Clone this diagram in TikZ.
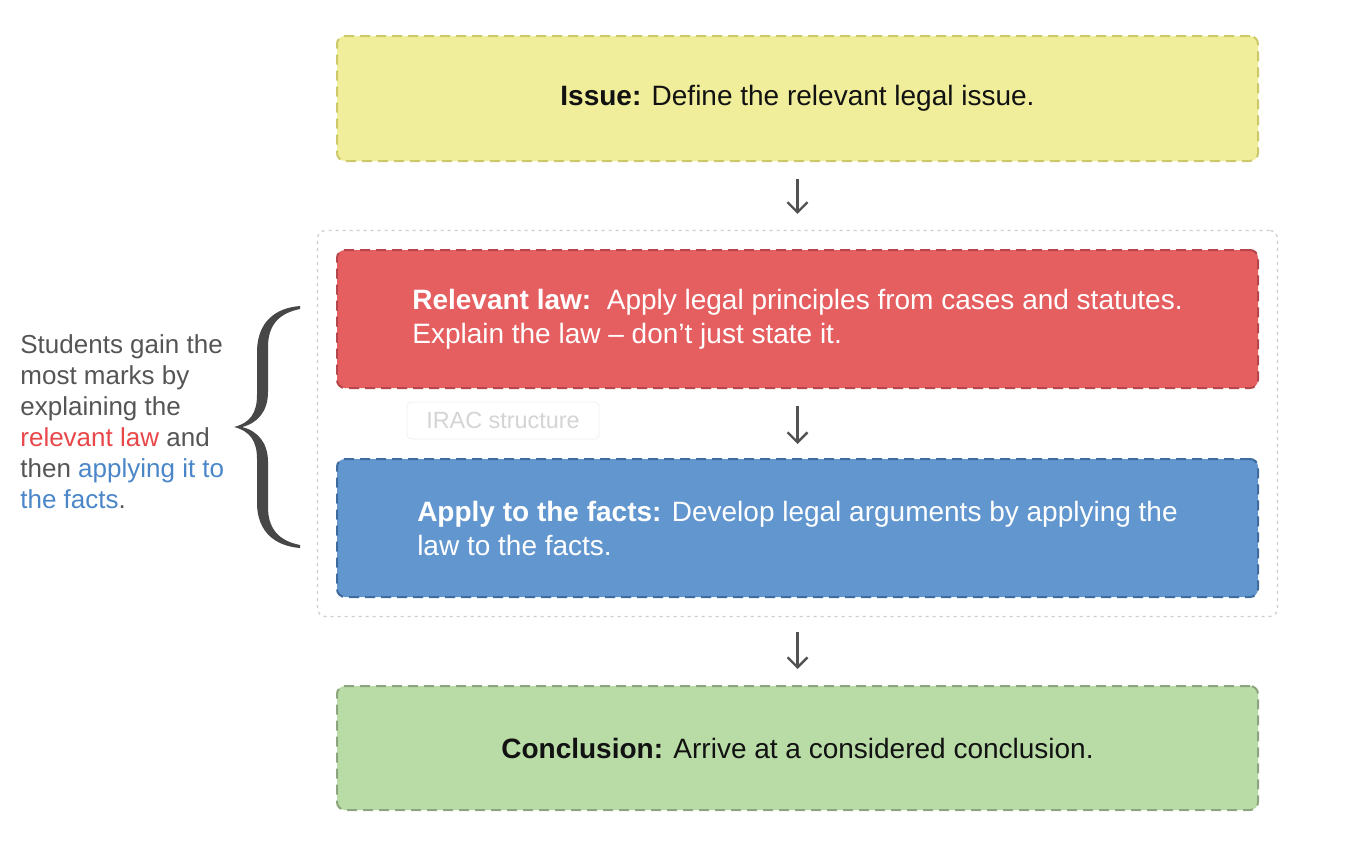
\documentclass[tikz,border=0pt]{standalone}
\usepackage{fontspec}
\setmainfont{Liberation Sans}
\usetikzlibrary{arrows.meta,positioning,fit,calc}
\definecolor{issuefill}{HTML}{F0EE9A}
\definecolor{issueline}{HTML}{CDC86A}
\definecolor{lawfill}{HTML}{E65F60}
\definecolor{lawline}{HTML}{B5474C}
\definecolor{factfill}{HTML}{6296CF}
\definecolor{factline}{HTML}{3F6C9E}
\definecolor{conclfill}{HTML}{B9DCA7}
\definecolor{conclline}{HTML}{8CA57E}
\definecolor{notegray}{HTML}{555555}
\definecolor{notered}{HTML}{E8474A}
\definecolor{noteblue}{HTML}{4A86C8}

\begin{document}
\begin{tikzpicture}[
    x=0.5pt, y=-0.5pt,
    box/.style={draw, dash pattern=on 5pt off 3pt, line width=1pt, rounded corners=4pt, align=left, minimum width=460.5pt, font={\fontsize{14}{17}\selectfont}},
    group/.style={draw=black!20, dash pattern=on 1.5pt off 2pt, line width=0.6pt, rounded corners=4pt, inner sep=9.25pt},
    tag/.style={draw=black!6, fill=white, rounded corners=2pt, minimum width=96pt, minimum height=18.5pt, text=black!17, font={\fontsize{11.7}{14}\selectfont}},
    note/.style={align=left, inner sep=0pt, text=notegray, font={\fontsize{13}{15.5}\selectfont}},
    arrow/.style={-{Straight Barb[length=5pt, width=10pt]}, line width=1.2pt, draw=black!68}
]
\useasboundingbox (0,0) rectangle (1356,862);

\node[box, fill=issuefill, draw=issueline, minimum height=62.5pt, text=black!93] (issue) at (797.5,98.5) {\textbf{Issue:} Define the relevant legal issue.};
\node[box, fill=lawfill, draw=lawline, minimum height=69pt, text=white, below=43.5pt of issue] (law) {\textbf{Relevant law:}\ \ Apply legal principles from cases and statutes.\\Explain the law -- don't just state it.};
\node[box, fill=factfill, draw=factline, minimum height=69pt, text=white, below=34.5pt of law] (apply) {\textbf{Apply to the facts:} Develop legal arguments by applying the\\law to the facts.};
\node[group, fit=(law) (apply)] (irac) {};
\node[box, fill=conclfill, draw=conclline, minimum height=62pt, text=black!93, below=43.5pt of apply] (concl) {\textbf{Conclusion:} Arrive at a considered conclusion.};

\node[tag] (irtag) at ($(law.south west)+(167,31.5)$) {IRAC structure};

\node[note, anchor=west] (why) at (20,422) {Students gain the\\most marks by\\explaining the\\{\color{notered}relevant law} and\\then {\color{noteblue}applying it to}\\{\color{noteblue}the facts}.};

% brace
\fill[black!72] (300,306) .. controls (275,308) and (258,322) .. (257,350) -- (257,395)
    .. controls (257,413) and (250,423) .. (234,427) .. controls (250,431) and (257,441) .. (257,459)
    -- (257,505) .. controls (258,532) and (275,546) .. (300,548)
    -- (300,545) .. controls (280,541) and (268,530) .. (268,507) -- (268,462)
    .. controls (268,443) and (258,431) .. (242,427) .. controls (258,423) and (268,411) .. (268,392)
    -- (268,347) .. controls (268,324) and (280,313) .. (300,309) -- cycle;

\draw[arrow, shorten <=8.5pt, shorten >=8pt] (issue) -- (irac);
\draw[arrow, shorten <=8.5pt, shorten >=7pt] (law) -- (apply);
\draw[arrow, shorten <=7.5pt, shorten >=8pt] (irac) -- (concl);
\end{tikzpicture}
\end{document}
